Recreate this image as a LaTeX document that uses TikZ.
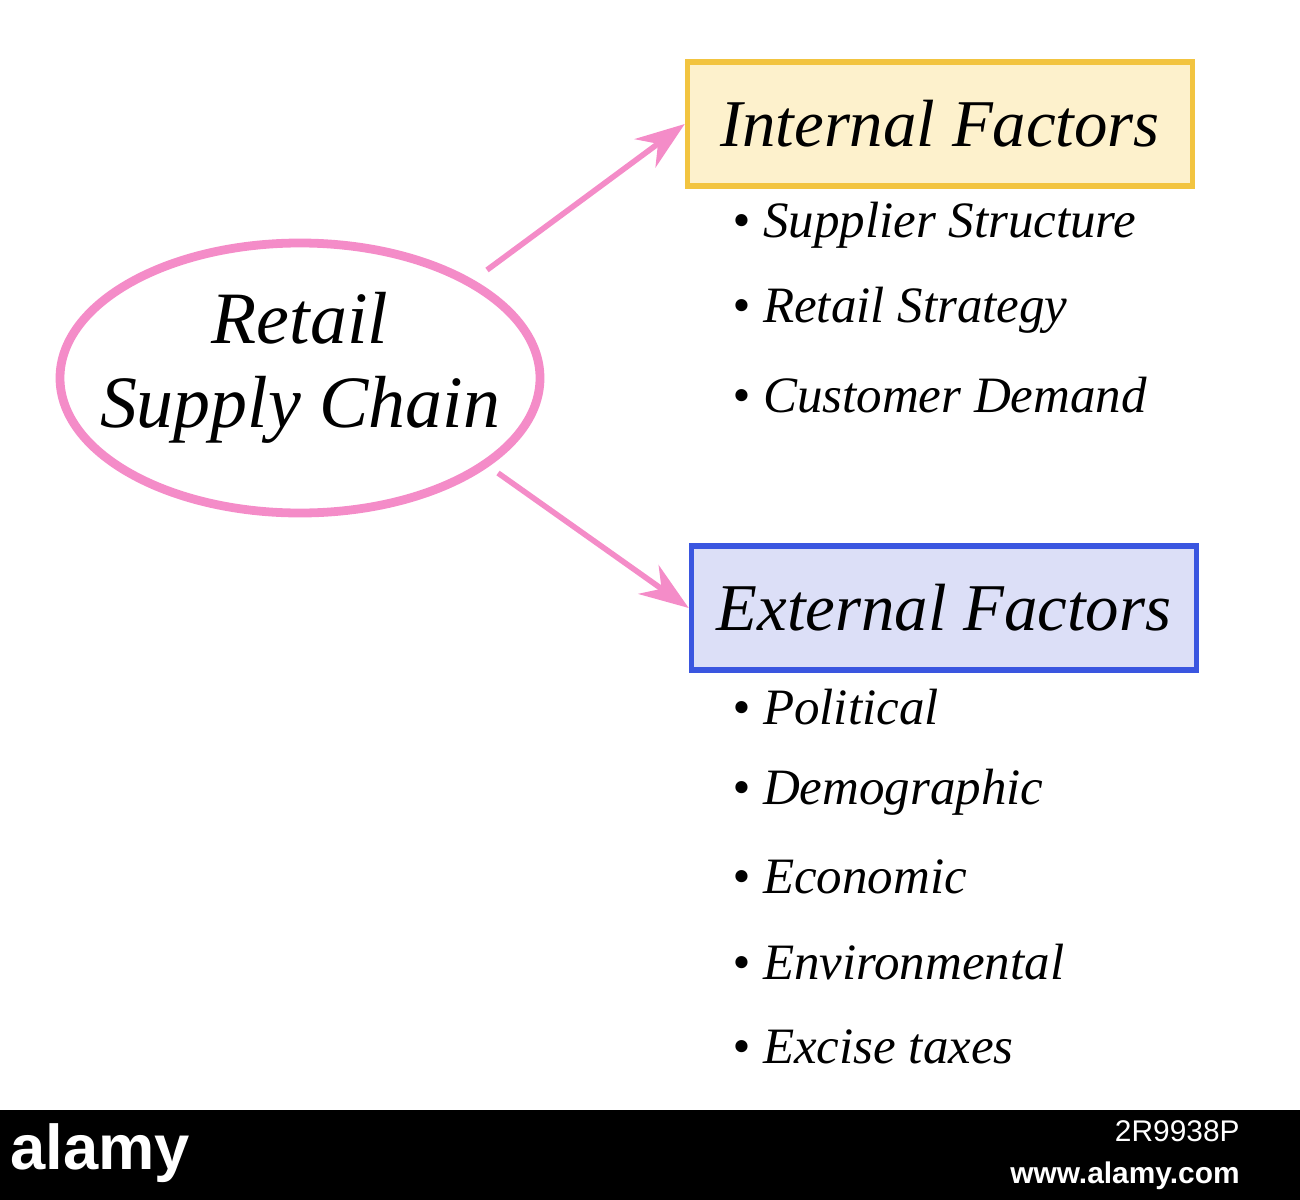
\documentclass[tikz,border=0pt]{standalone}
\usepackage{fontspec}
\setmainfont{Liberation Serif}
\setsansfont{Liberation Sans}
\usetikzlibrary{arrows.meta,positioning}
\definecolor{pinkline}{HTML}{F48CC8}
\definecolor{intfill}{HTML}{FDF1CC}
\definecolor{intdraw}{HTML}{F2C440}
\definecolor{extfill}{HTML}{DCDFF7}
\definecolor{extdraw}{HTML}{3A56E0}
\begin{document}
\begin{tikzpicture}[x=0.01cm,y=-0.01cm,
    factor/.style={rectangle,line width=1.5pt,minimum width=5.05cm,minimum height=1.24cm,
                   font=\fontsize{19}{22}\selectfont\itshape},
    item/.style={anchor=west,font=\fontsize{14.5}{17}\selectfont\itshape},
    link/.style={pinkline,line width=1.6pt,-{Stealth[length=14pt,width=10pt]}}]
  \useasboundingbox (0,0) rectangle (1300,1200);

  % centre
  \draw[pinkline,line width=2.5pt] (300,378) ellipse [x radius=240,y radius=135];
  \node[align=center,font=\fontsize{21}{24}\selectfont\itshape] (chain) at (300,368)
    {Retail\\Supply Chain};

  % factor boxes
  \node[factor,fill=intfill,draw=intdraw] (internal) at (940,124) {Internal Factors};
  \node[factor,fill=extfill,draw=extdraw] (external) at (944,608) {External Factors};

  \coordinate (up) at (487,270);
  \coordinate (down) at (498,473);
  \draw[link] (up) -- (internal.west);
  \draw[link] (down) -- (external.west);

  % lists
  \foreach \t [count=\i] in {Supplier Structure,Retail Strategy,Customer Demand}
    \node[item] (int\i) at (720,140+85*\i) {\textbullet\ \t};
  \foreach \t [count=\i] in {Political,Demographic,Economic,Environmental,Excise taxes}
    \node[item] (ext\i) at (720,622+85*\i) {\textbullet\ \t};

  % footer bar
  \fill[black] (0,1110) rectangle (1300,1200);
  \node[white,font=\sffamily\bfseries\fontsize{18}{20}\selectfont] (alamy) at (100,1153) {alamy};
  \node[white,anchor=east,align=right,font=\sffamily\fontsize{8.5}{12}\selectfont] (code) at (1252,1155)
    {2R9938P\\\textbf{www.alamy.com}};
\end{tikzpicture}
\end{document}
